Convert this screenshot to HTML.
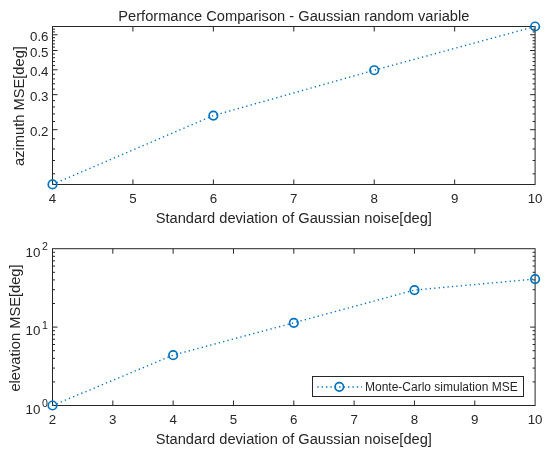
<!DOCTYPE html>
<html><head><meta charset="utf-8"><style>
html,body{margin:0;padding:0;background:#fff;width:550px;height:453px;overflow:hidden}
svg{display:block}
text{font-family:"Liberation Sans",Arial,sans-serif;fill:#262626}
</style></head><body>
<svg width="550" height="453" viewBox="0 0 550 453">
<rect width="550" height="453" fill="#fff"/>
<text x="52.50" y="203.30" font-size="13.33" text-anchor="middle" >4</text>
<line x1="132.93" y1="184.50" x2="132.93" y2="179.50" stroke="#262626" stroke-width="1"/>
<line x1="132.93" y1="26.50" x2="132.93" y2="31.50" stroke="#262626" stroke-width="1"/>
<text x="132.93" y="203.30" font-size="13.33" text-anchor="middle" >5</text>
<line x1="213.37" y1="184.50" x2="213.37" y2="179.50" stroke="#262626" stroke-width="1"/>
<line x1="213.37" y1="26.50" x2="213.37" y2="31.50" stroke="#262626" stroke-width="1"/>
<text x="213.37" y="203.30" font-size="13.33" text-anchor="middle" >6</text>
<line x1="293.80" y1="184.50" x2="293.80" y2="179.50" stroke="#262626" stroke-width="1"/>
<line x1="293.80" y1="26.50" x2="293.80" y2="31.50" stroke="#262626" stroke-width="1"/>
<text x="293.80" y="203.30" font-size="13.33" text-anchor="middle" >7</text>
<line x1="374.23" y1="184.50" x2="374.23" y2="179.50" stroke="#262626" stroke-width="1"/>
<line x1="374.23" y1="26.50" x2="374.23" y2="31.50" stroke="#262626" stroke-width="1"/>
<text x="374.23" y="203.30" font-size="13.33" text-anchor="middle" >8</text>
<line x1="454.67" y1="184.50" x2="454.67" y2="179.50" stroke="#262626" stroke-width="1"/>
<line x1="454.67" y1="26.50" x2="454.67" y2="31.50" stroke="#262626" stroke-width="1"/>
<text x="454.67" y="203.30" font-size="13.33" text-anchor="middle" >9</text>
<text x="535.10" y="203.30" font-size="13.33" text-anchor="middle" >10</text>
<line x1="52.50" y1="173.84" x2="55.00" y2="173.84" stroke="#262626" stroke-width="1"/>
<line x1="535.10" y1="173.84" x2="532.60" y2="173.84" stroke="#262626" stroke-width="1"/>
<line x1="52.50" y1="160.51" x2="55.00" y2="160.51" stroke="#262626" stroke-width="1"/>
<line x1="535.10" y1="160.51" x2="532.60" y2="160.51" stroke="#262626" stroke-width="1"/>
<line x1="52.50" y1="148.98" x2="55.00" y2="148.98" stroke="#262626" stroke-width="1"/>
<line x1="535.10" y1="148.98" x2="532.60" y2="148.98" stroke="#262626" stroke-width="1"/>
<line x1="52.50" y1="138.80" x2="55.00" y2="138.80" stroke="#262626" stroke-width="1"/>
<line x1="535.10" y1="138.80" x2="532.60" y2="138.80" stroke="#262626" stroke-width="1"/>
<line x1="52.50" y1="129.69" x2="57.50" y2="129.69" stroke="#262626" stroke-width="1"/>
<line x1="535.10" y1="129.69" x2="530.10" y2="129.69" stroke="#262626" stroke-width="1"/>
<text x="48.50" y="135.69" font-size="13.33" text-anchor="end" >0.2</text>
<line x1="52.50" y1="121.46" x2="55.00" y2="121.46" stroke="#262626" stroke-width="1"/>
<line x1="535.10" y1="121.46" x2="532.60" y2="121.46" stroke="#262626" stroke-width="1"/>
<line x1="52.50" y1="113.94" x2="55.00" y2="113.94" stroke="#262626" stroke-width="1"/>
<line x1="535.10" y1="113.94" x2="532.60" y2="113.94" stroke="#262626" stroke-width="1"/>
<line x1="52.50" y1="107.02" x2="55.00" y2="107.02" stroke="#262626" stroke-width="1"/>
<line x1="535.10" y1="107.02" x2="532.60" y2="107.02" stroke="#262626" stroke-width="1"/>
<line x1="52.50" y1="100.62" x2="55.00" y2="100.62" stroke="#262626" stroke-width="1"/>
<line x1="535.10" y1="100.62" x2="532.60" y2="100.62" stroke="#262626" stroke-width="1"/>
<line x1="52.50" y1="94.66" x2="57.50" y2="94.66" stroke="#262626" stroke-width="1"/>
<line x1="535.10" y1="94.66" x2="530.10" y2="94.66" stroke="#262626" stroke-width="1"/>
<text x="48.50" y="100.66" font-size="13.33" text-anchor="end" >0.3</text>
<line x1="52.50" y1="89.08" x2="55.00" y2="89.08" stroke="#262626" stroke-width="1"/>
<line x1="535.10" y1="89.08" x2="532.60" y2="89.08" stroke="#262626" stroke-width="1"/>
<line x1="52.50" y1="83.84" x2="55.00" y2="83.84" stroke="#262626" stroke-width="1"/>
<line x1="535.10" y1="83.84" x2="532.60" y2="83.84" stroke="#262626" stroke-width="1"/>
<line x1="52.50" y1="78.90" x2="55.00" y2="78.90" stroke="#262626" stroke-width="1"/>
<line x1="535.10" y1="78.90" x2="532.60" y2="78.90" stroke="#262626" stroke-width="1"/>
<line x1="52.50" y1="74.23" x2="55.00" y2="74.23" stroke="#262626" stroke-width="1"/>
<line x1="535.10" y1="74.23" x2="532.60" y2="74.23" stroke="#262626" stroke-width="1"/>
<line x1="52.50" y1="69.80" x2="57.50" y2="69.80" stroke="#262626" stroke-width="1"/>
<line x1="535.10" y1="69.80" x2="530.10" y2="69.80" stroke="#262626" stroke-width="1"/>
<text x="48.50" y="75.80" font-size="13.33" text-anchor="end" >0.4</text>
<line x1="52.50" y1="65.58" x2="55.00" y2="65.58" stroke="#262626" stroke-width="1"/>
<line x1="535.10" y1="65.58" x2="532.60" y2="65.58" stroke="#262626" stroke-width="1"/>
<line x1="52.50" y1="61.56" x2="55.00" y2="61.56" stroke="#262626" stroke-width="1"/>
<line x1="535.10" y1="61.56" x2="532.60" y2="61.56" stroke="#262626" stroke-width="1"/>
<line x1="52.50" y1="57.72" x2="55.00" y2="57.72" stroke="#262626" stroke-width="1"/>
<line x1="535.10" y1="57.72" x2="532.60" y2="57.72" stroke="#262626" stroke-width="1"/>
<line x1="52.50" y1="54.04" x2="55.00" y2="54.04" stroke="#262626" stroke-width="1"/>
<line x1="535.10" y1="54.04" x2="532.60" y2="54.04" stroke="#262626" stroke-width="1"/>
<line x1="52.50" y1="50.52" x2="57.50" y2="50.52" stroke="#262626" stroke-width="1"/>
<line x1="535.10" y1="50.52" x2="530.10" y2="50.52" stroke="#262626" stroke-width="1"/>
<text x="48.50" y="56.52" font-size="13.33" text-anchor="end" >0.5</text>
<line x1="52.50" y1="47.13" x2="55.00" y2="47.13" stroke="#262626" stroke-width="1"/>
<line x1="535.10" y1="47.13" x2="532.60" y2="47.13" stroke="#262626" stroke-width="1"/>
<line x1="52.50" y1="43.87" x2="55.00" y2="43.87" stroke="#262626" stroke-width="1"/>
<line x1="535.10" y1="43.87" x2="532.60" y2="43.87" stroke="#262626" stroke-width="1"/>
<line x1="52.50" y1="40.72" x2="55.00" y2="40.72" stroke="#262626" stroke-width="1"/>
<line x1="535.10" y1="40.72" x2="532.60" y2="40.72" stroke="#262626" stroke-width="1"/>
<line x1="52.50" y1="37.69" x2="55.00" y2="37.69" stroke="#262626" stroke-width="1"/>
<line x1="535.10" y1="37.69" x2="532.60" y2="37.69" stroke="#262626" stroke-width="1"/>
<line x1="52.50" y1="34.76" x2="57.50" y2="34.76" stroke="#262626" stroke-width="1"/>
<line x1="535.10" y1="34.76" x2="530.10" y2="34.76" stroke="#262626" stroke-width="1"/>
<text x="48.50" y="40.76" font-size="13.33" text-anchor="end" >0.6</text>
<line x1="52.50" y1="31.93" x2="55.00" y2="31.93" stroke="#262626" stroke-width="1"/>
<line x1="535.10" y1="31.93" x2="532.60" y2="31.93" stroke="#262626" stroke-width="1"/>
<line x1="52.50" y1="29.18" x2="55.00" y2="29.18" stroke="#262626" stroke-width="1"/>
<line x1="535.10" y1="29.18" x2="532.60" y2="29.18" stroke="#262626" stroke-width="1"/>
<rect x="52.5" y="26.5" width="482.60" height="158.0" fill="none" stroke="#262626" stroke-width="1"/>
<polyline points="52.50,184.47 213.37,115.57 374.23,70.23 535.10,26.49" fill="none" stroke="#0072BD" stroke-width="1.4" stroke-dasharray="1.3 3.15"/>
<circle cx="52.50" cy="184.47" r="4.25" fill="none" stroke="#0072BD" stroke-width="1.7"/>
<circle cx="213.37" cy="115.57" r="4.25" fill="none" stroke="#0072BD" stroke-width="1.7"/>
<circle cx="374.23" cy="70.23" r="4.25" fill="none" stroke="#0072BD" stroke-width="1.7"/>
<circle cx="535.10" cy="26.49" r="4.25" fill="none" stroke="#0072BD" stroke-width="1.7"/>
<text x="293.80" y="20.70" font-size="14.67" text-anchor="middle" >Performance Comparison - Gaussian random variable</text>
<text x="293.80" y="222.80" font-size="14.67" text-anchor="middle" >Standard deviation of Gaussian noise[deg]</text>
<text transform="translate(23.7,106) rotate(-90)" font-size="14.67" text-anchor="middle">azimuth MSE[deg]</text>
<text x="52.50" y="424.30" font-size="13.33" text-anchor="middle" >2</text>
<line x1="112.83" y1="405.50" x2="112.83" y2="400.50" stroke="#262626" stroke-width="1"/>
<line x1="112.83" y1="248.70" x2="112.83" y2="253.70" stroke="#262626" stroke-width="1"/>
<text x="112.83" y="424.30" font-size="13.33" text-anchor="middle" >3</text>
<line x1="173.15" y1="405.50" x2="173.15" y2="400.50" stroke="#262626" stroke-width="1"/>
<line x1="173.15" y1="248.70" x2="173.15" y2="253.70" stroke="#262626" stroke-width="1"/>
<text x="173.15" y="424.30" font-size="13.33" text-anchor="middle" >4</text>
<line x1="233.48" y1="405.50" x2="233.48" y2="400.50" stroke="#262626" stroke-width="1"/>
<line x1="233.48" y1="248.70" x2="233.48" y2="253.70" stroke="#262626" stroke-width="1"/>
<text x="233.48" y="424.30" font-size="13.33" text-anchor="middle" >5</text>
<line x1="293.80" y1="405.50" x2="293.80" y2="400.50" stroke="#262626" stroke-width="1"/>
<line x1="293.80" y1="248.70" x2="293.80" y2="253.70" stroke="#262626" stroke-width="1"/>
<text x="293.80" y="424.30" font-size="13.33" text-anchor="middle" >6</text>
<line x1="354.12" y1="405.50" x2="354.12" y2="400.50" stroke="#262626" stroke-width="1"/>
<line x1="354.12" y1="248.70" x2="354.12" y2="253.70" stroke="#262626" stroke-width="1"/>
<text x="354.12" y="424.30" font-size="13.33" text-anchor="middle" >7</text>
<line x1="414.45" y1="405.50" x2="414.45" y2="400.50" stroke="#262626" stroke-width="1"/>
<line x1="414.45" y1="248.70" x2="414.45" y2="253.70" stroke="#262626" stroke-width="1"/>
<text x="414.45" y="424.30" font-size="13.33" text-anchor="middle" >8</text>
<line x1="474.78" y1="405.50" x2="474.78" y2="400.50" stroke="#262626" stroke-width="1"/>
<line x1="474.78" y1="248.70" x2="474.78" y2="253.70" stroke="#262626" stroke-width="1"/>
<text x="474.78" y="424.30" font-size="13.33" text-anchor="middle" >9</text>
<text x="535.10" y="424.30" font-size="13.33" text-anchor="middle" >10</text>
<line x1="52.50" y1="381.90" x2="55.00" y2="381.90" stroke="#262626" stroke-width="1"/>
<line x1="535.10" y1="381.90" x2="532.60" y2="381.90" stroke="#262626" stroke-width="1"/>
<line x1="52.50" y1="368.09" x2="55.00" y2="368.09" stroke="#262626" stroke-width="1"/>
<line x1="535.10" y1="368.09" x2="532.60" y2="368.09" stroke="#262626" stroke-width="1"/>
<line x1="52.50" y1="358.30" x2="55.00" y2="358.30" stroke="#262626" stroke-width="1"/>
<line x1="535.10" y1="358.30" x2="532.60" y2="358.30" stroke="#262626" stroke-width="1"/>
<line x1="52.50" y1="350.70" x2="55.00" y2="350.70" stroke="#262626" stroke-width="1"/>
<line x1="535.10" y1="350.70" x2="532.60" y2="350.70" stroke="#262626" stroke-width="1"/>
<line x1="52.50" y1="344.49" x2="55.00" y2="344.49" stroke="#262626" stroke-width="1"/>
<line x1="535.10" y1="344.49" x2="532.60" y2="344.49" stroke="#262626" stroke-width="1"/>
<line x1="52.50" y1="339.24" x2="55.00" y2="339.24" stroke="#262626" stroke-width="1"/>
<line x1="535.10" y1="339.24" x2="532.60" y2="339.24" stroke="#262626" stroke-width="1"/>
<line x1="52.50" y1="334.70" x2="55.00" y2="334.70" stroke="#262626" stroke-width="1"/>
<line x1="535.10" y1="334.70" x2="532.60" y2="334.70" stroke="#262626" stroke-width="1"/>
<line x1="52.50" y1="330.69" x2="55.00" y2="330.69" stroke="#262626" stroke-width="1"/>
<line x1="535.10" y1="330.69" x2="532.60" y2="330.69" stroke="#262626" stroke-width="1"/>
<line x1="52.50" y1="303.50" x2="55.00" y2="303.50" stroke="#262626" stroke-width="1"/>
<line x1="535.10" y1="303.50" x2="532.60" y2="303.50" stroke="#262626" stroke-width="1"/>
<line x1="52.50" y1="289.69" x2="55.00" y2="289.69" stroke="#262626" stroke-width="1"/>
<line x1="535.10" y1="289.69" x2="532.60" y2="289.69" stroke="#262626" stroke-width="1"/>
<line x1="52.50" y1="279.90" x2="55.00" y2="279.90" stroke="#262626" stroke-width="1"/>
<line x1="535.10" y1="279.90" x2="532.60" y2="279.90" stroke="#262626" stroke-width="1"/>
<line x1="52.50" y1="272.30" x2="55.00" y2="272.30" stroke="#262626" stroke-width="1"/>
<line x1="535.10" y1="272.30" x2="532.60" y2="272.30" stroke="#262626" stroke-width="1"/>
<line x1="52.50" y1="266.09" x2="55.00" y2="266.09" stroke="#262626" stroke-width="1"/>
<line x1="535.10" y1="266.09" x2="532.60" y2="266.09" stroke="#262626" stroke-width="1"/>
<line x1="52.50" y1="260.84" x2="55.00" y2="260.84" stroke="#262626" stroke-width="1"/>
<line x1="535.10" y1="260.84" x2="532.60" y2="260.84" stroke="#262626" stroke-width="1"/>
<line x1="52.50" y1="256.30" x2="55.00" y2="256.30" stroke="#262626" stroke-width="1"/>
<line x1="535.10" y1="256.30" x2="532.60" y2="256.30" stroke="#262626" stroke-width="1"/>
<line x1="52.50" y1="252.29" x2="55.00" y2="252.29" stroke="#262626" stroke-width="1"/>
<line x1="535.10" y1="252.29" x2="532.60" y2="252.29" stroke="#262626" stroke-width="1"/>
<text x="40.30" y="413.55" font-size="13.33" text-anchor="end" >10</text>
<text x="41.90" y="406.90" font-size="10.6" text-anchor="start" >0</text>
<line x1="52.50" y1="327.10" x2="57.50" y2="327.10" stroke="#262626" stroke-width="1"/>
<line x1="535.10" y1="327.10" x2="530.10" y2="327.10" stroke="#262626" stroke-width="1"/>
<text x="40.30" y="335.15" font-size="13.33" text-anchor="end" >10</text>
<text x="41.90" y="328.50" font-size="10.6" text-anchor="start" >1</text>
<text x="40.30" y="256.75" font-size="13.33" text-anchor="end" >10</text>
<text x="41.90" y="250.10" font-size="10.6" text-anchor="start" >2</text>
<rect x="52.5" y="248.7" width="482.60" height="156.8" fill="none" stroke="#262626" stroke-width="1"/>
<polyline points="52.50,405.50 173.15,355.13 293.80,322.82 414.45,290.04 535.10,279.06" fill="none" stroke="#0072BD" stroke-width="1.4" stroke-dasharray="1.3 3.15"/>
<circle cx="52.50" cy="405.50" r="4.25" fill="none" stroke="#0072BD" stroke-width="1.7"/>
<circle cx="173.15" cy="355.13" r="4.25" fill="none" stroke="#0072BD" stroke-width="1.7"/>
<circle cx="293.80" cy="322.82" r="4.25" fill="none" stroke="#0072BD" stroke-width="1.7"/>
<circle cx="414.45" cy="290.04" r="4.25" fill="none" stroke="#0072BD" stroke-width="1.7"/>
<circle cx="535.10" cy="279.06" r="4.25" fill="none" stroke="#0072BD" stroke-width="1.7"/>
<text x="293.80" y="443.70" font-size="14.67" text-anchor="middle" >Standard deviation of Gaussian noise[deg]</text>
<text transform="translate(19.7,328) rotate(-90)" font-size="14.67" text-anchor="middle">elevation MSE[deg]</text>
<rect x="312.5" y="376.5" width="211" height="20" fill="#fff" stroke="#262626" stroke-width="1"/>
<line x1="317.2" y1="387" x2="362" y2="387" stroke="#0072BD" stroke-width="1.4" stroke-dasharray="1.35 3.05"/>
<circle cx="339.3" cy="386.8" r="4.25" fill="none" stroke="#0072BD" stroke-width="1.7"/>
<text x="365.00" y="391.10" font-size="12" text-anchor="start" >Monte-Carlo simulation MSE</text>
</svg>
</body></html>
